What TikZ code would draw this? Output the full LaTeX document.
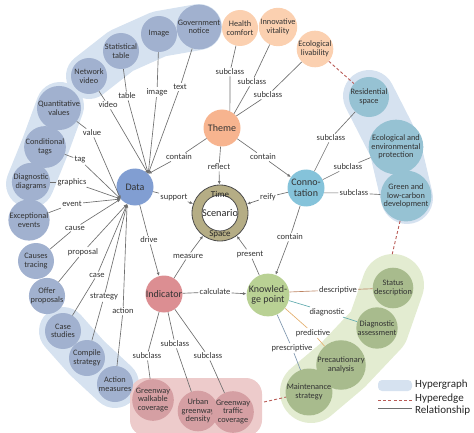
\documentclass[tikz,border=0pt]{standalone}
\usepackage{fontspec}
\setmainfont{Carlito}
\usetikzlibrary{arrows.meta}

\definecolor{dataC}{HTML}{A1B1CF}
\definecolor{dataM}{HTML}{819ED2}
\definecolor{themeC}{HTML}{FBD0B0}
\definecolor{themeM}{HTML}{F7B48F}
\definecolor{connC}{HTML}{96C2D3}
\definecolor{connM}{HTML}{85C3DA}
\definecolor{indC}{HTML}{D59FA3}
\definecolor{indM}{HTML}{DC8E92}
\definecolor{knowC}{HTML}{A8BB8D}
\definecolor{knowM}{HTML}{B9D194}
\definecolor{ringC}{HTML}{B5AD85}
\definecolor{edgeC}{HTML}{6E6E6E}
\definecolor{hyperC}{HTML}{B85A55}
\definecolor{blobB}{HTML}{D6E2F0}
\definecolor{blobP}{HTML}{EDCBCB}
\definecolor{blobG}{HTML}{E3ECD1}
\definecolor{descC}{HTML}{BD8463}
\definecolor{diagC}{HTML}{5EA9AD}
\definecolor{predC}{HTML}{E3AD6A}
\definecolor{prescC}{HTML}{7D95AD}

\begin{document}
\begin{tikzpicture}[x=1pt,y=-1pt,
    ball/.style={circle,minimum size=36pt,inner sep=0pt,align=center,text=black!80,font=\fontsize{8.3}{8.6}\selectfont},
    big/.style={ball,minimum size=37pt,font=\fontsize{10}{10.5}\selectfont},
    rel/.style={inner sep=1.2pt,text=black!80,font=\fontsize{8.5}{9}\selectfont},
    legtxt/.style={anchor=west,inner sep=0pt,text=black!85,font=\fontsize{11}{11}\selectfont},
    edge/.style={draw=edgeC,line width=0.65pt},
    arr/.style={edge,-{Latex[length=3.5pt,width=3pt]}},
    hyper/.style={draw=hyperC,line width=0.9pt,dash pattern=on 3pt off 2.2pt},
    blob/.style={line width=#1,line cap=round,line join=round}]
\useasboundingbox (0,0) rectangle (474,433);

% 超图背景
\draw[blob=46pt,blobB] (89,76) -- (121,51) -- (159,34) -- (199,27);
\draw[blob=48pt,blobB] (60,106) -- (45,147) -- (30,184);
\draw[blob=48pt,blobB] (63,331) -- (87,358) -- (115,384);
\draw[blob=52pt,blobB] (369,96) -- (395,147) -- (407,198);
\fill[blobP,rounded corners=16pt] (130,378) rectangle (262,436);
\draw[blob=62pt,blobG] (393,285) -- (378,328) -- (343,365) -- (311,392);

% 中心场景
\node[circle,minimum size=56pt,fill=ringC,draw=black!70,line width=0.8pt] (scen) at (220,213) {};
\node[circle,minimum size=36pt,fill=white,draw=black!70,line width=0.8pt] (scenin) at (220,213) {};
\node[font=\fontsize{10.3}{11}\selectfont,text=black!85] (scentxt) at (220,213) {Scenario};
\node[font=\fontsize{9}{9}\selectfont,text=black!85] (time) at (220,194) {Time};
\node[font=\fontsize{9}{9}\selectfont,text=black!85] (space) at (220,234) {Space};

% 主要节点
\node[big,fill=dataM] (data) at (135,187) {Data};
\node[big,fill=themeM] (theme) at (222,128) {Theme};
\node[big,fill=connM] (conn) at (306,188) {Conno-\\tation};
\node[big,fill=indM] (ind) at (164,294) {Indicator};
\node[big,fill=knowM] (know) at (268,295) {Knowled-\\ge point};

% 数据子节点
\node[ball,fill=dataC] (gov) at (199,27) {Government\\notice};
\node[ball,fill=dataC] (img) at (159,34) {Image};
\node[ball,fill=dataC] (stat) at (121,51) {Statistical\\table};
\node[ball,fill=dataC] (netv) at (89,76) {Network\\video};
\node[ball,fill=dataC] (quant) at (59,108) {Quantitative\\values};
\node[ball,fill=dataC] (cond) at (45,147) {Conditional\\tags};
\node[ball,fill=dataC] (diagr) at (31,182) {Diagnostic\\diagrams};
\node[ball,fill=dataC] (exc) at (29,220) {Exceptional\\events};
\node[ball,fill=dataC] (caus) at (36,261) {Causes\\tracing};
\node[ball,fill=dataC] (offer) at (47,296) {Offer\\proposals};
\node[ball,fill=dataC] (casest) at (63,331) {Case\\studies};
\node[ball,fill=dataC] (comp) at (87,358) {Compile\\strategy};
\node[ball,fill=dataC] (act) at (115,384) {Action\\measures};

% 主题子节点
\node[ball,fill=themeC] (health) at (240,28) {Health\\comfort};
\node[ball,fill=themeC] (innov) at (278,27) {Innovative\\vitality};
\node[ball,fill=themeC] (ecol) at (315,49) {Ecological\\livability};

% 内涵子节点
\node[ball,fill=connC] (resid) at (369,97) {Residential\\space};
\node[ball,fill=connC] (ecoenv) at (396,147) {Ecological and\\environmental\\protection};
\node[ball,fill=connC] (green) at (406,196) {Green and\\low-carbon\\development};

% 指标子节点
\node[ball,fill=indC] (walk) at (153,400) {Greenway\\walkable\\coverage};
\node[ball,fill=indC] (urban) at (198,411) {Urban\\greenway\\density};
\node[ball,fill=indC] (traffic) at (233,412) {Greenway\\traffic\\coverage};

% 知识点子节点
\node[ball,fill=knowC] (status) at (393,288) {Status\\description};
\node[ball,fill=knowC] (diagas) at (377,328) {Diagnostic\\assessment};
\node[ball,fill=knowC] (precau) at (341,365) {Precautionary\\analysis};
\node[ball,fill=knowC] (maint) at (309,392) {Maintenance\\strategy};

% 关系标签
\node[rel] (ltext) at (180,87) {text};
\node[rel] (limage) at (157,92) {image};
\node[rel] (ltable) at (127,96) {table};
\node[rel] (lvideo) at (108,105) {video};
\node[rel] (lvalue) at (92,133) {value};
\node[rel] (ltag) at (80,160) {tag};
\node[rel] (lgraph) at (72,182) {graphics};
\node[rel] (levent) at (72,204) {event};
\node[rel] (lcause) at (75,228) {cause};
\node[rel] (lprop) at (83,252) {proposal};
\node[rel] (lcase) at (97,275) {case};
\node[rel] (lstrat) at (104,297) {strategy};
\node[rel] (laction) at (123,311) {action};
\node[rel] (lsub1) at (230,72) {subclass};
\node[rel] (lsub2) at (252,82) {subclass};
\node[rel] (lsub3) at (268,95) {subclass};
\node[rel] (lsub4) at (331,138) {subclass};
\node[rel] (lsub5) at (348,167) {subclass};
\node[rel] (lsub6) at (354,193) {subclass};
\node[rel] (lsub7) at (147,356) {subclass};
\node[rel] (lsub8) at (175,344) {subclass};
\node[rel] (lsub9) at (208,356) {subclass};
\node[rel] (ldesc) at (338,290) {descriptive};
\node[rel] (ldiag) at (327,312) {diagnostic};
\node[rel] (lpred) at (313,333) {predictive};
\node[rel] (lpresc) at (292,348) {prescriptive};
\node[rel] (lcontA) at (179,157) {contain};
\node[rel] (lreflect) at (219,167) {reflect};
\node[rel] (lcontB) at (263,157) {contain};
\node[rel] (lsupport) at (174,197) {support};
\node[rel] (lreify) at (268,197) {reify};
\node[rel] (lcontC) at (290,237) {contain};
\node[rel] (lpresent) at (250,254) {present};
\node[rel] (lmeasure) at (188,256) {measure};
\node[rel] (lcalc) at (215,292) {calculate};
\node[rel] (ldrive) at (149,240) {drive};

% 数据的连线
\draw[edge] (gov) -- (ltext);   \draw[arr] (ltext) -- (data.45);
\draw[edge] (img) -- (limage);  \draw[arr] (limage) -- (data.45);
\draw[edge] (stat) -- (ltable); \draw[arr] (ltable) -- (data.45);
\draw[edge] (netv) -- (lvideo); \draw[arr] (lvideo) -- (data.45);
\draw[edge] (quant) -- (lvalue); \draw[arr] (lvalue) -- (data.220);
\draw[edge] (cond) -- (ltag);   \draw[arr] (ltag) -- (data.220);
\draw[edge] (diagr) -- (lgraph); \draw[arr] (lgraph) -- (data.220);
\draw[edge] (exc) -- (levent);  \draw[arr] (levent) -- (data.220);
\draw[edge] (caus) -- (lcause); \draw[arr] (lcause) -- (data.220);
\draw[edge] (offer) -- (lprop); \draw[arr] (lprop) -- (data.245);
\draw[edge] (casest) -- (lcase); \draw[arr] (lcase) -- (data.245);
\draw[edge] (comp) -- (lstrat); \draw[arr] (lstrat) -- (data.245);
\draw[edge] (act) -- (laction); \draw[arr] (laction) -- (data.245);

% 子类连线
\draw[edge] (health) -- (lsub1); \draw[edge] (lsub1) -- (theme.65);
\draw[edge] (innov) -- (lsub2);  \draw[edge] (lsub2) -- (theme.50);
\draw[edge] (ecol) -- (lsub3);   \draw[edge] (lsub3) -- (theme.40);
\draw[edge] (resid) -- (lsub4);  \draw[edge] (lsub4) -- (conn);
\draw[edge] (ecoenv) -- (lsub5); \draw[edge] (lsub5) -- (conn);
\draw[edge] (green) -- (lsub6);  \draw[edge] (lsub6) -- (conn.-15);
\draw[edge] (walk) -- (lsub7);   \draw[edge] (lsub7) -- (ind);
\draw[edge] (urban) -- (lsub8);  \draw[edge] (lsub8) -- (ind);
\draw[edge] (traffic) -- (lsub9); \draw[edge] (lsub9) -- (ind);

% 知识点的连线
\draw[edge,draw=descC] (know.8) -- (ldesc);   \draw[edge,draw=descC] (ldesc) -- (status);
\draw[edge,draw=diagC] (know.-15) -- (ldiag);  \draw[edge,draw=diagC] (ldiag) -- (diagas);
\draw[edge,draw=predC] (know.-38) -- (lpred);  \draw[edge,draw=predC] (lpred) -- (precau);
\draw[edge,draw=prescC] (know.-65) -- (lpresc); \draw[edge,draw=prescC] (lpresc) -- (maint);

% 主要关系
\draw[edge] (theme) -- (lcontA);  \draw[arr] (lcontA) -- (data.45);
\draw[edge] (theme) -- (lreflect); \draw[arr] (lreflect) -- (scen);
\draw[edge] (theme) -- (lcontB);  \draw[arr] (lcontB) -- (conn);
\draw[edge] (data) -- (lsupport); \draw[arr] (lsupport) -- (scen);
\draw[edge] (conn) -- (lreify);   \draw[arr] (lreify) -- (scen);
\draw[edge] (conn) -- (lcontC);   \draw[arr] (lcontC) -- (know);
\draw[edge] (know) -- (lpresent); \draw[arr] (lpresent) -- (scen);
\draw[edge] (ind) -- (lmeasure);  \draw[arr] (lmeasure) -- (scen);
\draw[edge] (ind) -- (lcalc);     \draw[arr] (lcalc) -- (know);
\draw[edge] (data) -- (ldrive);   \draw[arr] (ldrive) -- (ind);

% 超边
\coordinate (gtop) at (392,255);
\coordinate (pinkR) at (264,402);
\draw[hyper] (ecol) -- (resid);
\draw[hyper] (green) -- (gtop);
\draw[hyper] (pinkR) -- (maint);

% 图例
\fill[blobB,rounded corners=4pt] (378,380) rectangle (412,391);
\node[legtxt] (lg1) at (415,385) {Hypergraph};
\coordinate (h1) at (378,400);
\coordinate (h2) at (412,400);
\draw[hyper] (h1) -- (h2);
\node[legtxt] (lg2) at (415,399) {Hyperedge};
\coordinate (r1) at (378,408);
\coordinate (r2) at (412,408);
\draw[edge] (r1) -- (r2);
\node[legtxt] (lg3) at (415,411) {Relationship};
\end{tikzpicture}
\end{document}
